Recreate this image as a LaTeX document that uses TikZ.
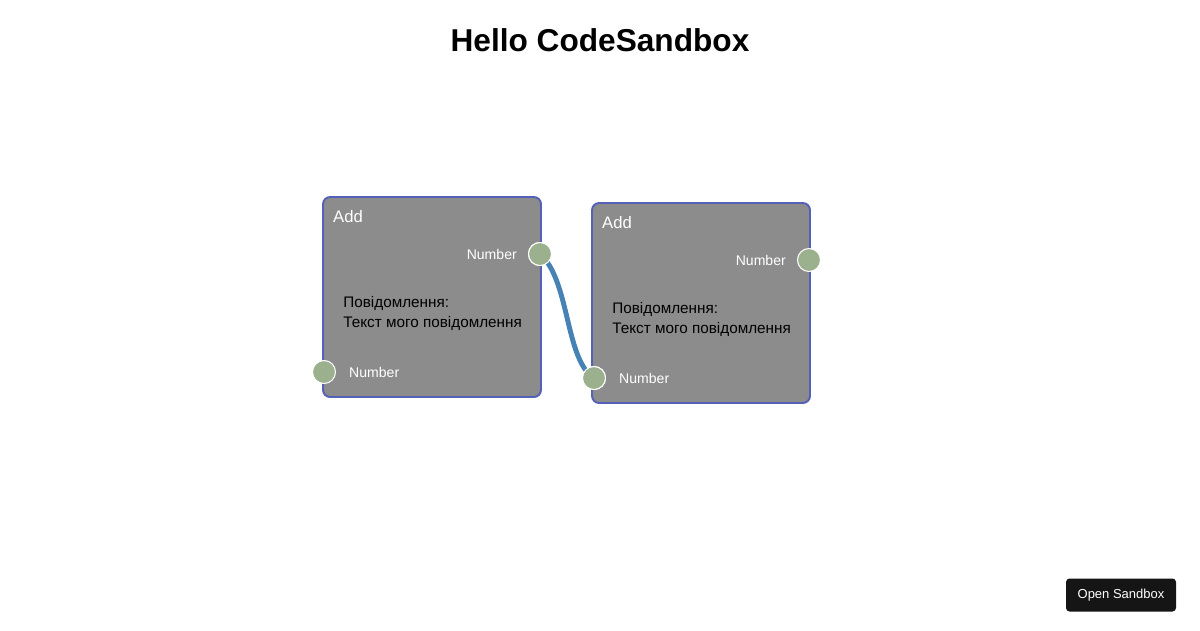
\documentclass[tikz,border=0pt]{standalone}
\usepackage{fontspec}
\setmainfont{Liberation Sans}
\usetikzlibrary{positioning}
\definecolor{nodegray}{HTML}{8C8C8C}
\definecolor{nodeedge}{HTML}{5560B8}
\definecolor{portgreen}{HTML}{9BB08C}
\definecolor{linkblue}{HTML}{4682B4}
\definecolor{btnblack}{HTML}{151515}
\tikzset{
  box/.style={draw=nodeedge,line width=1.1pt,fill=nodegray,rounded corners=4pt,
    minimum width=4.36cm,minimum height=4cm,inner sep=0},
  port/.style={circle,fill=portgreen,draw=white,line width=0.6pt,minimum size=0.46cm,inner sep=0},
  title/.style={text=white,font=\fontsize{9.5}{11}\selectfont,anchor=west},
  portlabel/.style={text=white,font=\fontsize{8}{10}\selectfont},
  message/.style={align=left,anchor=north west,font=\fontsize{8.7}{11.5}\selectfont,inner sep=0},
  link/.style={draw=linkblue,line width=2.8pt}
}
\begin{document}
\begin{tikzpicture}[x=0.02cm,y=-0.02cm]
  \useasboundingbox (0,0) rectangle (1200,630);
  \node(heading) at (600,40) {\fontsize{18}{20}\selectfont\bfseries Hello CodeSandbox};
  % first node
  \node(addA)[box] at (432,297) {};
  \node(addAtitle)[title] at (327,217) {Add};
  \node(addAmsg)[message] at (343,296) {Повідомлення:\\Текст мого повідомлення};
  % second node
  \node(addB)[box] at (701,303) {};
  \node(addBtitle)[title] at (596,223) {Add};
  \node(addBmsg)[message] at (612,302) {Повідомлення:\\Текст мого повідомлення};
  % link
  \node(addAout)[port] at (540,254) {};
  \node(addBin)[port] at (594,378) {};
  \draw[link] (addAout.center) .. controls (570,280) and (565,360) .. (addBin.center);
  \node(addAout)[port] at (540,254) {};
  \node(addBin)[port] at (594,378) {};
  \node(addAin)[port] at (324,372) {};
  \node(addBout)[port] at (809,260) {};
  \node[portlabel,left=0.1cm of addAout] {Number};
  \node[portlabel,right=0.14cm of addAin] {Number};
  \node[portlabel,left=0.1cm of addBout] {Number};
  \node[portlabel,right=0.14cm of addBin] {Number};
  % button
  \node(sandbox)[fill=btnblack,rounded corners=2pt,text=white,minimum width=2.2cm,minimum height=0.66cm,
    font=\fontsize{7.4}{9}\selectfont] at (1121,595) {\raisebox{-1pt}{Open Sandbox}};
\end{tikzpicture}
\end{document}
